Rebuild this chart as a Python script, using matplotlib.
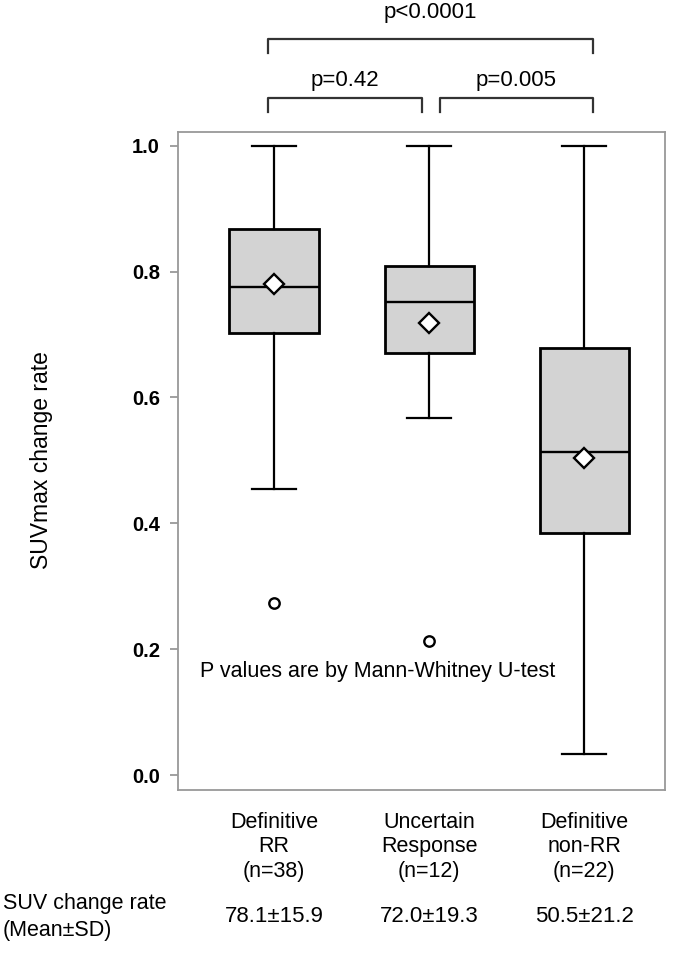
import matplotlib
matplotlib.use("Agg")
import matplotlib.pyplot as plt
from matplotlib import font_manager
import matplotlib.transforms as mtransforms

# ---------------- data ----------------
categories = ["Definitive\nRR\n(n=38)", "Uncertain\nResponse\n(n=12)", "Definitive\nnon-RR\n(n=22)"]
whisker_low = [0.454, 0.567, 0.034]
q1 = [0.702, 0.671, 0.385]
medians = [0.775, 0.751, 0.514]
q3 = [0.867, 0.809, 0.679]
whisker_high = [1.0, 1.0, 1.0]
means = [0.780, 0.719, 0.504]
outliers = [[0.274], [0.213], []]
summary_values = ["78.1\u00b115.9", "72.0\u00b119.3", "50.5\u00b121.2"]
summary_label = "SUV change rate\n(Mean\u00b1SD)"
yticks = [0.0, 0.2, 0.4, 0.6, 0.8, 1.0]
ytick_labels = ["0.0", "0.2", "0.4", "0.6", "0.8", "1.0"]
p_pairs = [(0, 1), (1, 2), (0, 2)]
p_texts = ["p=0.42", "p=0.005", "p<0.0001"]
note = "P values are by Mann-Whitney U-test"
ylabel = "SUVmax change rate"

# ---------------- fonts ----------------
avail = {f.name for f in font_manager.fontManager.ttflist}
base = "Liberation Sans Narrow" if "Liberation Sans Narrow" in avail else "Liberation Sans"
plt.rcParams["font.family"] = [base, "DejaVu Sans"]

W, H = 685, 956
fig = plt.figure(figsize=(W / 100, H / 100), dpi=100)
ax = fig.add_axes([178 / W, (H - 790) / H, 487 / W, 658 / H])

positions = [1, 2, 3]
stats = []
for i in range(3):
    stats.append(dict(med=medians[i], q1=q1[i], q3=q3[i], whislo=whisker_low[i],
                      whishi=whisker_high[i], mean=means[i], fliers=outliers[i]))

ax.bxp(stats, positions=positions, widths=0.575, patch_artist=True, showmeans=True,
       boxprops=dict(facecolor="#d3d3d3", edgecolor="black", linewidth=2.0),
       medianprops=dict(color="black", linewidth=1.7),
       whiskerprops=dict(color="black", linewidth=1.6),
       capprops=dict(color="black", linewidth=1.6),
       capwidths=0.285,
       meanprops=dict(marker="D", markerfacecolor="white", markeredgecolor="black",
                      markersize=10, markeredgewidth=1.7),
       flierprops=dict(marker="o", markerfacecolor="white", markeredgecolor="black",
                       markersize=7.5, markeredgewidth=1.7))

ax.set_xlim(0.381, 3.52)
ax.set_ylim(-0.0238, 1.0217)

for sp in ax.spines.values():
    sp.set_color("#999999")
    sp.set_linewidth(1.3)

ax.set_yticks(yticks)
ax.set_yticklabels(ytick_labels, fontsize=14.5, fontweight="bold")
ax.tick_params(axis="y", colors="#999999", length=6, width=1.3, pad=7, labelcolor="black")
ax.set_xticks(positions)
ax.set_xticklabels(categories, fontsize=15.5, linespacing=1.2)
ax.tick_params(axis="x", length=0, pad=16, labelcolor="black")

# y label
fig.text(42 / W, (H - 460) / H, ylabel, rotation=90, ha="center", va="center", fontsize=16.5)

# summary row
trans = mtransforms.blended_transform_factory(ax.transData, fig.transFigure)
for x, s in zip(positions, summary_values):
    fig.text(x, (H - 916) / H, s, transform=trans, ha="center", va="center", fontsize=16)
fig.text(3 / W, (H - 917) / H, summary_label, ha="left", va="center", fontsize=15.5,
         multialignment="left", linespacing=1.35)

# note inside
ax.text(1.668, 0.165, note, ha="center", va="center", fontsize=15.5)

# brackets
bracket_geom = {
    (0, 1): (0.959, 1.953, 1.075, 1.054, 1.104),
    (1, 2): (2.067, 3.056, 1.075, 1.054, 1.104),
    (0, 2): (0.959, 3.056, 1.169, 1.147, 1.212),
}
for pair, txt in zip(p_pairs, p_texts):
    x0, x1, ytop, ybot, ytxt = bracket_geom[pair]
    ax.plot([x0, x0, x1, x1], [ybot, ytop, ytop, ybot], color="#333333", lw=1.6,
            clip_on=False, solid_joinstyle="round")
    ax.text((x0 + x1) / 2, ytxt, txt, ha="center", va="center", fontsize=16, clip_on=False)

fig.savefig("out.png", dpi=100)
